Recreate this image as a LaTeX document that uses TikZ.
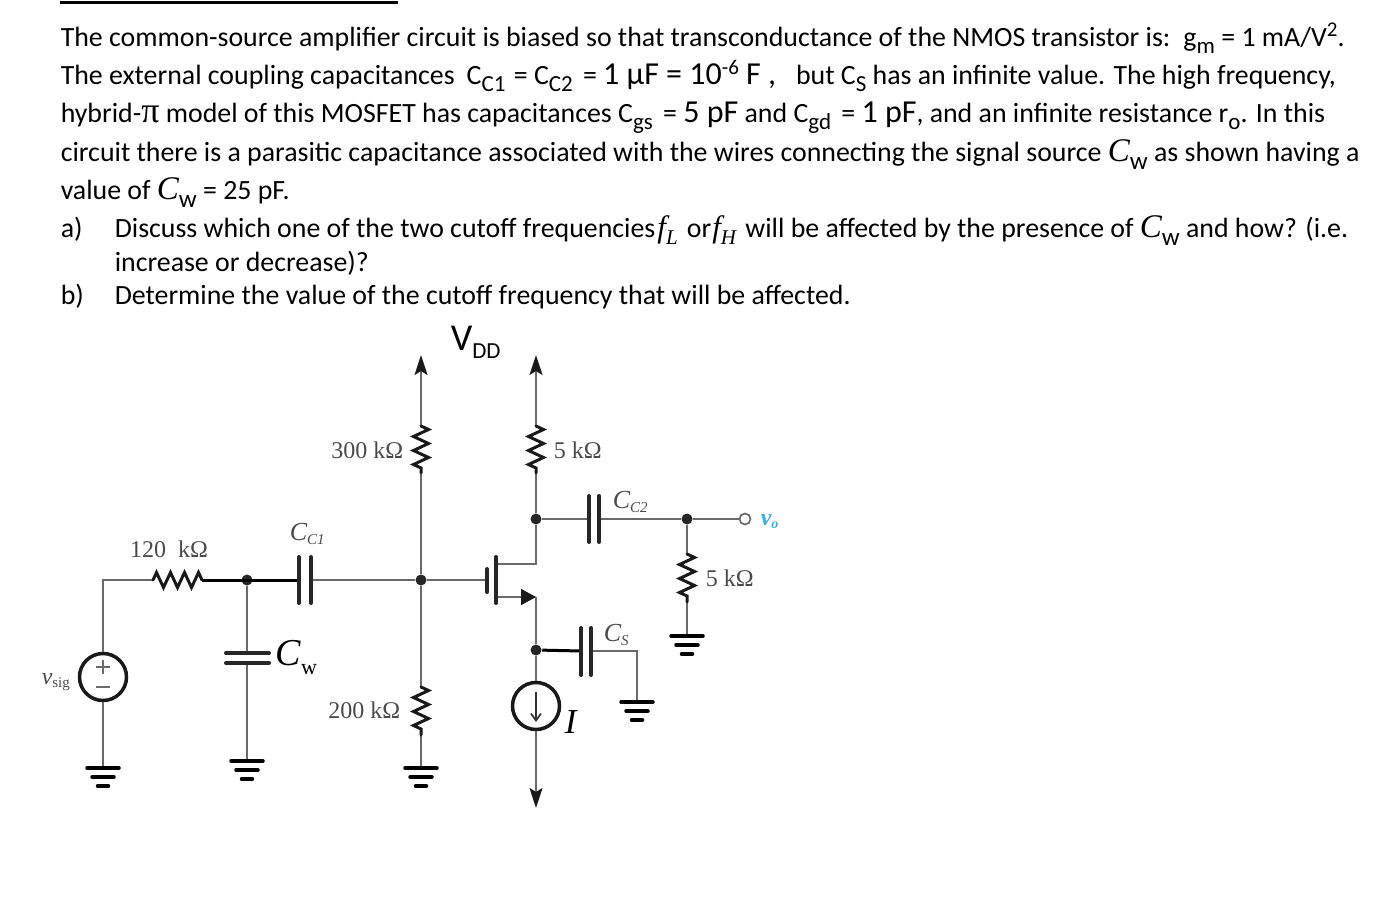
\documentclass[tikz,border=0pt]{standalone}
\usepackage{fontspec}
\usepackage{xcolor}
\setmainfont{Carlito}
\newfontfamily\timesfont{Liberation Serif}
\usetikzlibrary{arrows.meta,decorations.pathmorphing}
\definecolor{wiregray}{HTML}{6A6A6A}
\definecolor{labelgray}{HTML}{4A4A4A}
\definecolor{vocyan}{HTML}{38AEE0}
\newcommand{\bsub}[1]{\raisebox{-7pt}{\fontsize{23}{23}\selectfont #1}}
\newcommand{\bsup}[1]{\raisebox{10pt}{\fontsize{21}{21}\selectfont #1}}
\newcommand{\bigtxt}[1]{{\fontsize{32}{32}\selectfont #1}}
\newcommand{\mathC}[1]{{\timesfont\itshape\fontsize{33}{33}\selectfont C}\raisebox{-8pt}{\fontsize{25}{25}\selectfont #1}}
\newcommand{\mathf}[1]{{\timesfont\itshape\fontsize{31}{31}\selectfont f\raisebox{-7pt}{\fontsize{21}{21}\selectfont #1}}}
\newcommand{\capC}[1]{{\timesfont\itshape\fontsize{26}{26}\selectfont C\raisebox{-4pt}{\fontsize{15}{15}\selectfont #1}}}
\begin{document}
\begin{tikzpicture}[x=1pt,y=-1pt,
    line width=1.5pt,
    bodyline/.style={anchor=base west,inner sep=0pt,font=\fontsize{27.85}{30}\selectfont},
    compval/.style={inner sep=0pt,text=labelgray,font=\timesfont\fontsize{24}{24}\selectfont},
    wire/.style={draw=wiregray,line width=1.7pt},
    boldwire/.style={draw=black,line width=3pt},
    plate/.style={draw=black!85,line width=4pt,line cap=round},
    res/.style={draw=black!90,line width=3pt,line cap=round,decorate,
        decoration={zigzag,amplitude=7.5pt,segment length=14pt}},
    dot/.style={circle,fill=black!85,inner sep=0pt,minimum size=11pt},
    src/.style={circle,draw=black!90,line width=3.5pt,fill=none,inner sep=0pt,minimum size=47pt},
    railtip/.style={-{Stealth[length=20pt,width=13pt,inset=4pt,color=black!90,fill=black!90]}},
    gnd/.pic={
        \draw[black,line width=3.5pt,line cap=round] (-16,0) -- (16,0) (-11,9) -- (11,9) (-5.5,18) -- (5.5,18);
    }]
    \useasboundingbox (0,0) rectangle (1396,912);

    % problem text
    \coordinate (ruleA) at (60,3);
    \coordinate (ruleB) at (398,3);
    \draw[black,line width=3pt] (ruleA) -- (ruleB);
    \node[bodyline] (line1) at (60,47) {The common-source amplifier circuit is biased so that transconductance of the NMOS transistor is:\hspace{13pt}g\bsub{m} = 1 mA/V\bsup{2}.};
    \node[bodyline] (line2) at (60,85) {The external coupling capacitances\hspace{12pt}C\bsub{C1}\hspace{2pt} = C\bsub{C2}\hspace{4pt} = \bigtxt{1 µF = 10}\bsup{-6}\bigtxt{ F ,}\hspace{20pt}but C\bsub{S} has an infinite value. The high frequency,};
    \node[bodyline] (line3) at (60,123) {hybrid-{\timesfont\fontsize{36}{36}\selectfont π} model of this MOSFET has capacitances C\bsub{gs}\hspace{4pt} = \bigtxt{5 pF} and C\bsub{gd}\hspace{4pt} = \bigtxt{1 pF}, and an infinite resistance r\bsub{o}. In this};
    \node[bodyline] (line4) at (60,162) {circuit there is a parasitic capacitance associated with the wires connecting the signal source \mathC{w} as shown having a};
    \node[bodyline] (line5) at (60,200) {value of \mathC{w} = 25 pF.};
    \node[bodyline] (itemA) at (60,237) {a)};
    \node[bodyline] (line6) at (114,237) {Discuss which one of the two cutoff frequencies\hspace{2pt}\mathf{L}\hspace{3pt} or\hspace{1pt}\mathf{H}\hspace{3pt} will be affected by the presence of \mathC{w} and how? (i.e.};
    \node[bodyline] (line7) at (114,271) {increase or decrease)?};
    \node[bodyline] (itemB) at (60,304) {b)};
    \node[bodyline] (line8) at (114,304) {Determine the value of the cutoff frequency that will be affected.};
    \node[anchor=base west,inner sep=0pt,font=\fontsize{38}{38}\selectfont] (vdd) at (450,350) {V\raisebox{-8pt}{\fontsize{23}{23}\selectfont DD}};

    % junctions and terminals
    \node[dot] (nIn) at (247,580) {};
    \node[dot] (nGate) at (421,580) {};
    \node[dot] (nDrain) at (536,519) {};
    \node[dot] (nOut) at (687,519) {};
    \node[dot] (nSource) at (536,650) {};
    \node[src] (vsig) at (103,677) {};
    \node[src] (isrc) at (536,706) {};
    \node[circle,draw=wiregray,line width=1.7pt,fill=white,inner sep=0pt,minimum size=11pt] (vout) at (745,519) {};

    \coordinate (railG) at (421,355);
    \coordinate (railD) at (536,355);
    \coordinate (railS) at (536,808);
    \coordinate (rTopA) at (421,426);
    \coordinate (rTopB) at (421,473);
    \coordinate (rBotA) at (421,687);
    \coordinate (rBotB) at (421,735);
    \coordinate (rDA) at (536,426);
    \coordinate (rDB) at (536,473);
    \coordinate (rLA) at (687,554);
    \coordinate (rLB) at (687,602);
    \coordinate (rSA) at (153,580);
    \coordinate (rSB) at (202,580);
    \coordinate (corner) at (103,580);
    \coordinate (gS) at (103,768);
    \coordinate (gW) at (247,761);
    \coordinate (gB) at (421,768);
    \coordinate (gC) at (637,702);
    \coordinate (gL) at (687,636);
    \coordinate (c1L) at (299,580);
    \coordinate (c1R) at (311,580);
    \coordinate (c2L) at (589,519);
    \coordinate (c2R) at (599,519);
    \coordinate (csL) at (581,651);
    \coordinate (csR) at (591,651);
    \coordinate (cwT) at (247,653);
    \coordinate (cwB) at (247,663);
    \coordinate (cornerS) at (637,651);
    \coordinate (gPlate) at (487,580);
    \coordinate (chanD) at (496,564);
    \coordinate (chanS) at (496,597);
    \coordinate (cornerD) at (536,564);
    \coordinate (srcTip) at (536,597);

    % wires
    \draw[wire] (vsig) -- (gS);
    \draw[wire] (vsig) -- (corner) -- (rSA);
    \draw[boldwire] (rSB) -- (c1L);
    \draw[wire] (nIn) -- (cwT);
    \draw[wire] (cwB) -- (gW);
    \draw[wire] (c1R) -- (nGate) -- (gPlate);
    \draw[wire,railtip] (rTopA) -- (railG);
    \draw[wire] (rTopB) -- (nGate) -- (rBotA);
    \draw[wire] (rBotB) -- (gB);
    \draw[wire,railtip] (rDA) -- (railD);
    \draw[wire] (rDB) -- (nDrain) -- (cornerD) -- (chanD);
    \draw[wire] (nDrain) -- (c2L);
    \draw[wire] (c2R) -- (nOut) -- (vout);
    \draw[wire] (nOut) -- (rLA);
    \draw[wire] (rLB) -- (gL);
    \draw[wire,-{Triangle[length=15pt,width=16pt,color=black!90,fill=black!90]}] (chanS) -- (srcTip);
    \draw[wire] (srcTip) -- (nSource) -- (isrc);
    \draw[boldwire] (nSource) -- (csL);
    \draw[wire] (csR) -- (cornerS) -- (gC);
    \draw[wire,railtip] (isrc) -- (railS);

    % resistors
    \draw[res] (rSA) -- (rSB);
    \draw[res] (rTopA) -- (rTopB);
    \draw[res] (rBotA) -- (rBotB);
    \draw[res] (rDA) -- (rDB);
    \draw[res] (rLA) -- (rLB);

    % capacitor plates
    \draw[plate] (299,557) -- (299,603);
    \draw[plate] (311,557) -- (311,603);
    \draw[plate] (589,496) -- (589,542);
    \draw[plate] (599,496) -- (599,542);
    \draw[plate] (581,628) -- (581,675);
    \draw[plate] (591,628) -- (591,675);
    \draw[plate] (226,653) -- (269,653);
    \draw[plate] (226,663) -- (269,663);

    % transistor
    \draw[plate] (487,569) -- (487,592);
    \draw[plate] (496,557) -- (496,603);

    % source symbols
    \draw[wiregray,line width=1.7pt] (96,667) -- (110,667) (103,660) -- (103,674);
    \draw[wiregray,line width=1.7pt] (96,687) -- (110,687);
    \draw[black!80,line width=1.7pt,-{Straight Barb[length=7pt,width=10pt]}] (536,692) -- (536,722);

    % grounds
    \foreach \g in {gS,gW,gB,gC,gL} {
        \pic at (\g) {gnd};
    }

    % labels
    \node[compval,anchor=base] (lblRs) at (169,557) {120\hspace{12pt}kΩ};
    \node[compval,anchor=base east] (lblR1) at (404,458) {300 kΩ};
    \node[compval,anchor=base east] (lblR2) at (401,718) {200 kΩ};
    \node[compval,anchor=base west] (lblRd) at (553,458) {5 kΩ};
    \node[compval,anchor=base west] (lblRl) at (705,586) {5 kΩ};
    \node[inner sep=0pt,text=labelgray,anchor=base west] (lblC1) at (289,540) {\capC{C1}};
    \node[inner sep=0pt,text=labelgray,anchor=base west] (lblC2) at (612,508) {\capC{C2}};
    \node[inner sep=0pt,text=labelgray,anchor=base west] (lblCs) at (603,641) {\capC{S}};
    \node[inner sep=0pt,anchor=base west,font=\timesfont] (lblCw) at (275,665) {{\itshape\fontsize{38}{38}\selectfont C}\raisebox{-9pt}{\fontsize{22}{22}\selectfont w}};
    \node[inner sep=0pt,anchor=base west,font=\timesfont\itshape\fontsize{35}{35}\selectfont] (lblI) at (564,733) {I};
    \node[inner sep=0pt,anchor=base west,text=labelgray,font=\timesfont] (lblVsig) at (41,684) {{\itshape\fontsize{24}{24}\selectfont v}\raisebox{-3pt}{\fontsize{15}{15}\selectfont sig}};
    \node[inner sep=0pt,anchor=base west,text=vocyan,font=\timesfont\bfseries\itshape] (lblVo) at (760,525) {{\fontsize{24}{24}\selectfont v}\raisebox{-3pt}{\fontsize{14}{14}\selectfont o}};
\end{tikzpicture}
\end{document}
